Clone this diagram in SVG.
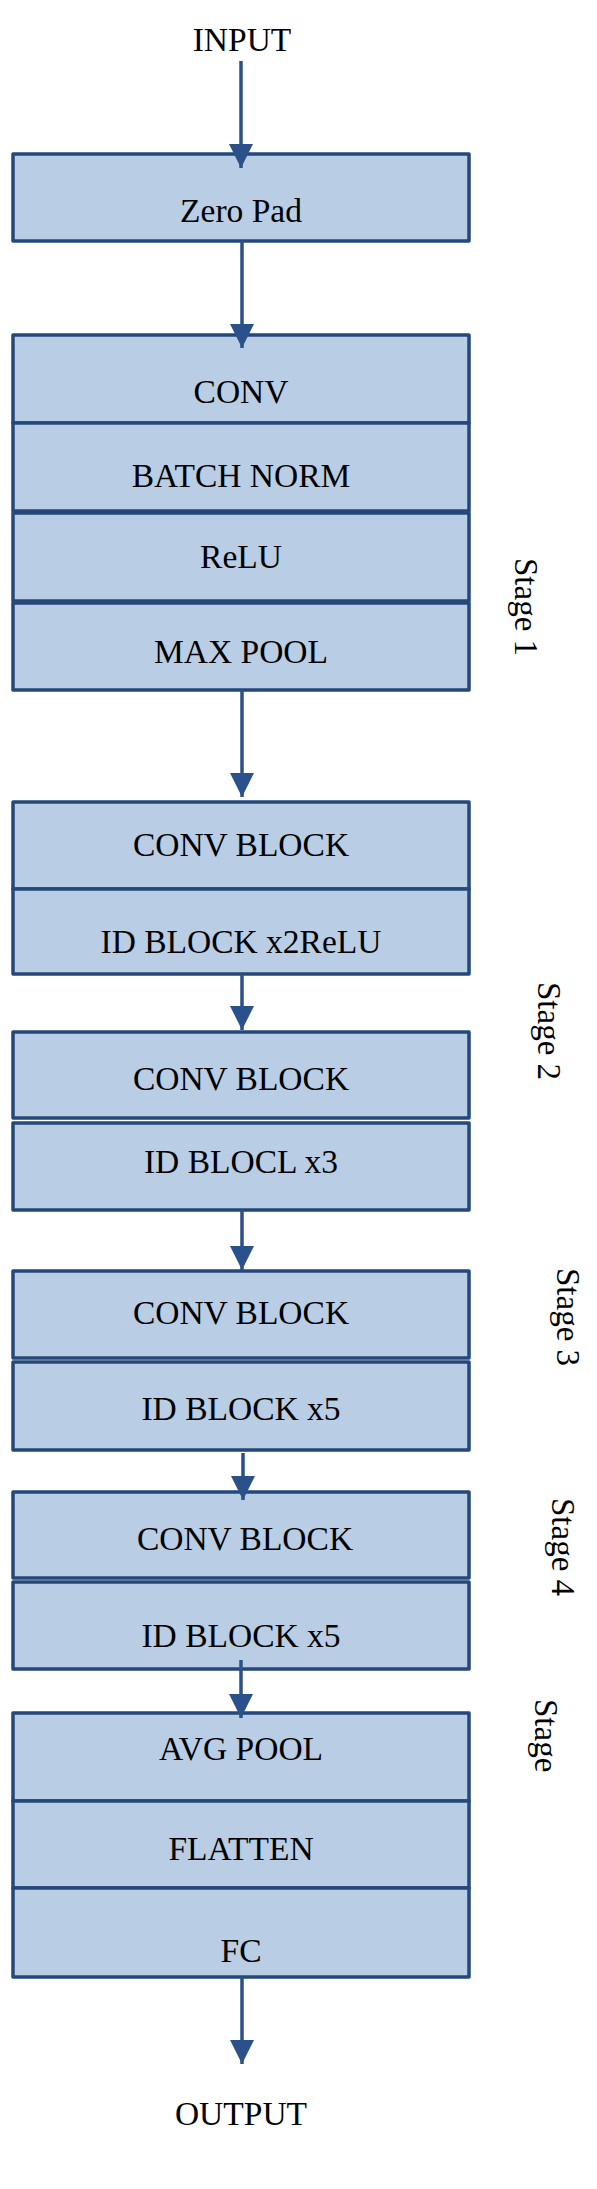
<svg xmlns="http://www.w3.org/2000/svg" width="597" height="2189" viewBox="0 0 597 2189">
<style>
.box{fill:#B9CDE5;stroke:#24487A;stroke-width:3.5;stroke-linejoin:round}
.t{font-family:"Liberation Serif","Times New Roman",serif;font-size:33.5px;fill:#000;text-anchor:middle}
.s{font-family:"Liberation Serif","Times New Roman",serif;font-size:33px;fill:#000}
.c{stroke:#2A5189;stroke-width:3.5;fill:none;marker-end:url(#ah)}
</style>
<defs>
<marker id="ah" viewBox="0 0 24 24" markerUnits="userSpaceOnUse" markerWidth="24" markerHeight="24" refX="24" refY="12" orient="auto">
<path d="M0,0 L24,12 L0,24 z" fill="#2A5189"/>
</marker>
</defs>
<rect width="597" height="2189" fill="#fff"/>
<g id="input"><text class="t" x="242" y="51">INPUT</text></g>
<g id="zeropad"><rect class="box" x="13" y="154" width="456" height="87"/><text class="t" x="241" y="222">Zero Pad</text></g>
<g id="conv1"><rect class="box" x="13" y="335" width="456" height="88"/><text class="t" x="241" y="403">CONV</text></g>
<g id="batchnorm"><rect class="box" x="13" y="423" width="456" height="88"/><text class="t" x="241" y="487">BATCH NORM</text></g>
<g id="relu"><rect class="box" x="13" y="513" width="456" height="88"/><text class="t" x="241" y="568">ReLU</text></g>
<g id="maxpool"><rect class="box" x="13" y="603" width="456" height="87"/><text class="t" x="241" y="663">MAX POOL</text></g>
<g id="s2conv1"><rect class="box" x="13" y="802" width="456" height="87"/><text class="t" x="241" y="856">CONV BLOCK</text></g>
<g id="s2id1"><rect class="box" x="13" y="889" width="456" height="85"/><text class="t" x="241" y="953">ID BLOCK x2ReLU</text></g>
<g id="s2conv2"><rect class="box" x="13" y="1032" width="456" height="86"/><text class="t" x="241" y="1090">CONV BLOCK</text></g>
<g id="s2id2"><rect class="box" x="13" y="1123" width="456" height="87"/><text class="t" x="241" y="1173">ID BLOCL x3</text></g>
<g id="s3conv"><rect class="box" x="13" y="1271" width="456" height="87"/><text class="t" x="241" y="1324">CONV BLOCK</text></g>
<g id="s3id"><rect class="box" x="13" y="1362" width="456" height="88"/><text class="t" x="241" y="1420">ID BLOCK x5</text></g>
<g id="s4conv"><rect class="box" x="13" y="1492" width="456" height="86"/><text class="t" x="245" y="1550">CONV BLOCK</text></g>
<g id="s4id"><rect class="box" x="13" y="1582" width="456" height="87"/><text class="t" x="241" y="1647">ID BLOCK x5</text></g>
<g id="avgpool"><rect class="box" x="13" y="1713" width="456" height="88"/><text class="t" x="241" y="1760">AVG POOL</text></g>
<g id="flatten"><rect class="box" x="13" y="1801" width="456" height="87"/><text class="t" x="241" y="1860">FLATTEN</text></g>
<g id="fc"><rect class="box" x="13" y="1888" width="456" height="89"/><text class="t" x="241" y="1962">FC</text></g>
<g id="output"><text class="t" x="241" y="2125">OUTPUT</text></g>
<g id="stage1"><text class="s" transform="translate(515,558) rotate(90)">Stage 1</text></g>
<g id="stage2"><text class="s" transform="translate(538,982) rotate(90)">Stage 2</text></g>
<g id="stage3"><text class="s" transform="translate(557,1268) rotate(90)">Stage 3</text></g>
<g id="stage4"><text class="s" transform="translate(552,1498) rotate(90)">Stage 4</text></g>
<g id="stage5"><text class="s" transform="translate(535,1699) rotate(90)">Stage</text></g>
<g id="connectors">
<path class="c" d="M241,61 V168"/>
<path class="c" d="M242,241 V348"/>
<path class="c" d="M242,690 V797"/>
<path class="c" d="M242,974 V1030"/>
<path class="c" d="M242,1210 V1270"/>
<path class="c" d="M243,1453 V1500"/>
<path class="c" d="M241,1660 V1718"/>
<path class="c" d="M242,1977 V2064"/>
</g>
</svg>
